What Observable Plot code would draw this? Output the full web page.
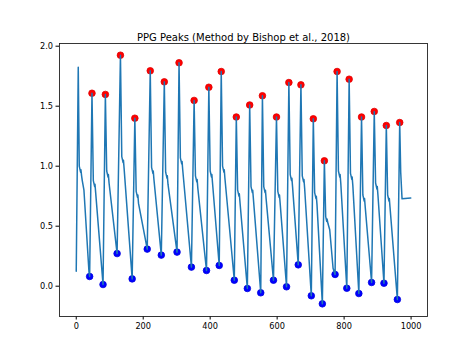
<!DOCTYPE html>
<html><head><meta charset="utf-8">
<script src="https://cdn.jsdelivr.net/npm/d3@7"></script>
<script src="https://cdn.jsdelivr.net/npm/@observablehq/plot@0.6"></script>
<style>html,body{margin:0;padding:0;background:#fff} svg{display:block}</style>
</head><body><div id="chart"></div>
<script>
const title = "PPG Peaks (Method by Bishop et al., 2018)";

// PPG signal vertices (sample index, amplitude)
const signalX = [
  0, 6, 9, 13, 14, 16, 18, 23, 38, 40,
  47, 51, 55, 56, 58, 80,
  87, 91, 95, 96, 98, 122,
  132, 136, 140, 141, 143, 167,
  175, 179, 183, 184, 186, 212,
  221, 225, 229, 230, 232, 254,
  263, 267, 271, 272, 274, 301,
  307, 311, 315, 316, 318, 344,
  352, 356, 360, 361, 363, 389,
  396, 400, 404, 405, 407, 427,
  433, 437, 441, 442, 444, 472,
  478, 482, 486, 487, 489, 511,
  518, 522, 526, 527, 529, 551,
  556, 560, 564, 565, 567, 589,
  598, 602, 606, 607, 609, 628,
  635, 639, 643, 644, 646, 663,
  671, 675, 679, 680, 682, 702,
  708, 712, 716, 717, 719, 735,
  741, 745, 748, 749, 752, 757, 767, 773,
  779, 783, 787, 788, 790, 808,
  815, 819, 823, 824, 826, 844,
  852, 856, 860, 861, 863, 882,
  890, 894, 898, 899, 901, 919,
  926, 930, 934, 935, 937, 959,
  966, 969, 973, 999
];
const signalY = [
  0.125, 1.825, 1.0, 0.95, 0.97, 0.92, 0.88, 0.80, 0.12, 0.081,
  1.608, 0.88, 0.83, 0.85, 0.78, 0.014,
  1.598, 0.96, 0.91, 0.93, 0.86, 0.272,
  1.925, 1.08, 1.03, 1.05, 0.98, 0.061,
  1.40, 0.79, 0.74, 0.76, 0.69, 0.309,
  1.795, 0.99, 0.94, 0.96, 0.89, 0.259,
  1.703, 0.95, 0.90, 0.92, 0.85, 0.284,
  1.862, 1.07, 1.02, 1.04, 0.97, 0.159,
  1.548, 0.92, 0.87, 0.89, 0.82, 0.131,
  1.658, 0.96, 0.91, 0.93, 0.86, 0.173,
  1.789, 1.00, 0.95, 0.97, 0.90, 0.050,
  1.41, 0.80, 0.75, 0.77, 0.70, -0.019,
  1.51, 0.83, 0.78, 0.80, 0.73, -0.055,
  1.587, 0.83, 0.78, 0.80, 0.73, 0.050,
  1.41, 0.79, 0.74, 0.76, 0.69, -0.005,
  1.697, 0.93, 0.88, 0.90, 0.83, 0.178,
  1.678, 0.92, 0.87, 0.89, 0.82, -0.080,
  1.395, 0.78, 0.73, 0.75, 0.68, -0.147,
  1.045, 0.58, 0.54, 0.56, 0.52, 0.47, 0.15, 0.098,
  1.789, 0.96, 0.91, 0.93, 0.86, -0.017,
  1.725, 0.94, 0.89, 0.91, 0.84, -0.061,
  1.41, 0.76, 0.71, 0.73, 0.66, 0.031,
  1.456, 0.86, 0.81, 0.83, 0.76, 0.025,
  1.339, 0.76, 0.71, 0.73, 0.66, -0.111,
  1.364, 0.95, 0.728, 0.735
];

const peakX = [47, 87, 132, 175, 221, 263, 307, 352, 396, 433, 478, 518, 556, 598, 635, 671, 708, 741, 779, 815, 852, 890, 926, 966];
const peakY = [1.608, 1.598, 1.925, 1.40, 1.795, 1.703, 1.862, 1.548, 1.658, 1.789, 1.41, 1.51, 1.587, 1.41, 1.697, 1.678, 1.395, 1.045, 1.789, 1.725, 1.41, 1.456, 1.339, 1.364];
const troughX = [40, 80, 122, 167, 212, 254, 301, 344, 389, 427, 472, 511, 551, 589, 628, 663, 702, 735, 773, 808, 844, 882, 919, 959];
const troughY = [0.081, 0.014, 0.272, 0.061, 0.309, 0.259, 0.284, 0.159, 0.131, 0.173, 0.050, -0.019, -0.055, 0.050, -0.005, 0.178, -0.080, -0.147, 0.098, -0.017, -0.061, 0.031, 0.025, -0.111];

const xTicks = [0, 200, 400, 600, 800, 1000];
const yTicks = [0, 0.5, 1.0, 1.5, 2.0];

const signal = signalX.map((x, i) => ({x, y: signalY[i]}));
const peaks = peakX.map((x, i) => ({x, y: peakY[i]}));
const troughs = troughX.map((x, i) => ({x, y: troughY[i]}));

const chart = Plot.plot({
  width: 474,
  height: 355,
  marginLeft: 59,
  marginRight: 47,
  marginTop: 43,
  marginBottom: 39,
  style: {fontFamily: "DejaVu Sans", fontSize: "8.2px", background: "#fff", color: "#000"},
  x: {domain: [-50, 1049], ticks: xTicks, tickFormat: d3.format("d"), label: null, tickSize: 3.5, tickPadding: 3},
  y: {domain: [-0.2525, 2.0225], ticks: yTicks, tickFormat: d3.format(".1f"), label: null, tickSize: 3.5, tickPadding: 3},
  marks: [
    Plot.dot(peaks, {x: "x", y: "y", r: 3.3, fill: "#ff0000", stroke: "#e00000", strokeWidth: 0.8}),
    Plot.dot(troughs, {x: "x", y: "y", r: 3.3, fill: "#0000ff", stroke: "#0000e0", strokeWidth: 0.8}),
    Plot.line(signal, {x: "x", y: "y", stroke: "#1f77b4", strokeWidth: 1.5, strokeLinejoin: "round"}),
    Plot.frame({stroke: "#222", strokeWidth: 0.9}),
    Plot.text([title], {frameAnchor: "top", dy: -10, text: d => d, fontSize: 10, fill: "#000"})
  ]
});
document.getElementById("chart").appendChild(chart);
</script>
</body></html>
